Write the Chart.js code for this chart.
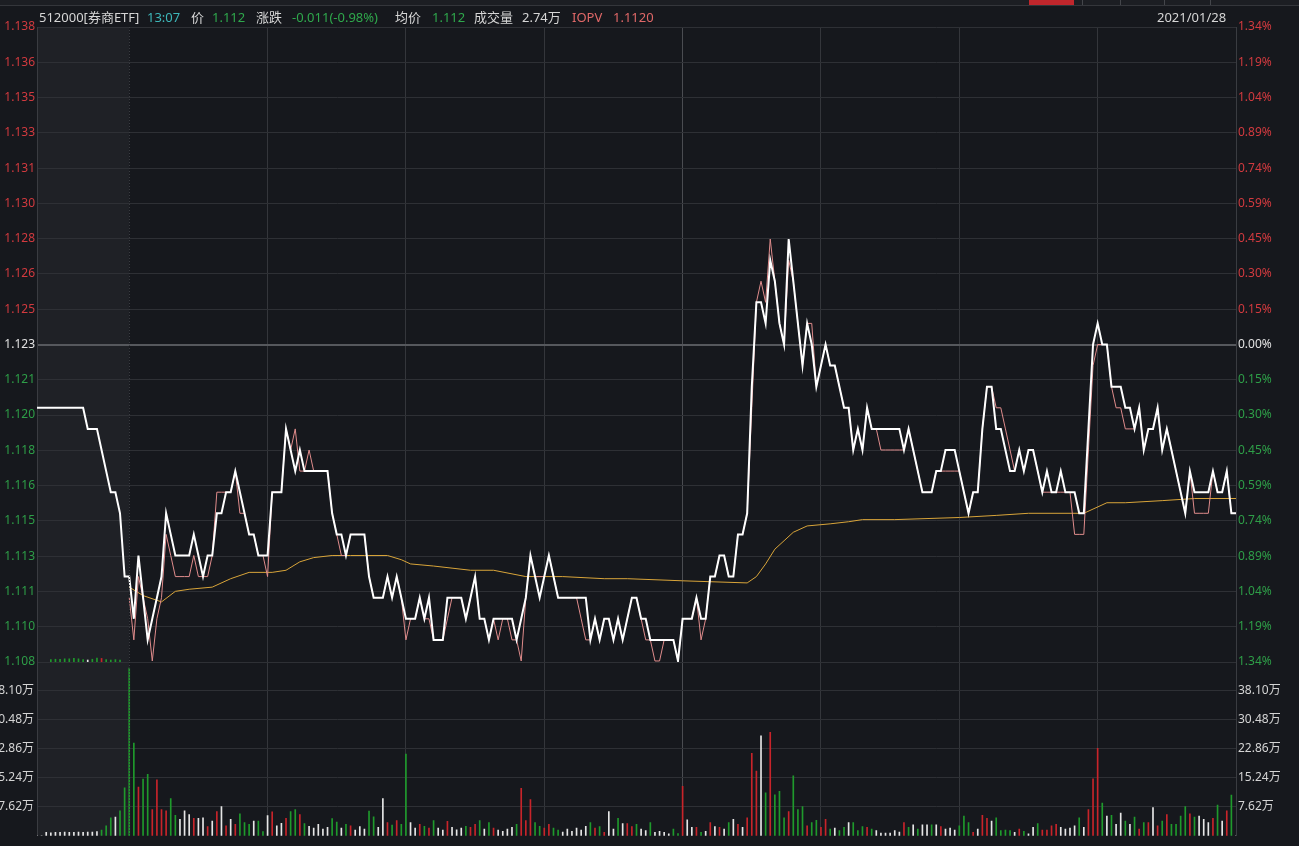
<!DOCTYPE html>
<html>
<head>
<meta charset="utf-8">
<script src="https://cdn.jsdelivr.net/npm/chart.js@4.4.0/dist/chart.umd.min.js"></script>
<style>
html, body { margin: 0; padding: 0; background: #16181d; overflow: hidden; }
#wrap { position: relative; width: 1299px; height: 846px; }
canvas { position: absolute; left: 0; top: 0; }
.t { position: absolute; top: 9px; font: 13px "Noto Sans", "Noto Sans CJK SC", sans-serif; line-height: 16px; white-space: nowrap; }
.bar { position: absolute; top: 0; height: 5px; }
</style>
</head>
<body>
<div id="wrap">
  <canvas id="priceChart" width="1299" height="846"></canvas>
  <canvas id="volChart" width="1299" height="846"></canvas>

  <div class="bar" style="left:0;width:1299px;background:#1c1e23;border-bottom:1px solid #34363b"></div>
  <div class="bar" style="left:1029px;width:45px;background:#c0262c"></div>
  <div class="bar" style="left:1082px;width:1px;background:#44464b"></div>
  <div class="bar" style="left:1120px;width:1px;background:#44464b"></div>
  <div class="bar" style="left:1164px;width:1px;background:#44464b"></div>
  <div class="bar" style="left:1210px;width:1px;background:#44464b"></div>

  <div class="t" style="left:39px;color:#d6d6d6">512000[券商ETF]</div>
  <div class="t" style="left:147px;color:#3db7b9">13:07</div>
  <div class="t" style="left:191px;color:#d6d6d6">价</div>
  <div class="t" style="left:212px;color:#2fa84c">1.112</div>
  <div class="t" style="left:256px;color:#d6d6d6">涨跌</div>
  <div class="t" style="left:292px;color:#2fa84c">-0.011(-0.98%)</div>
  <div class="t" style="left:395px;color:#d6d6d6">均价</div>
  <div class="t" style="left:432px;color:#2fa84c">1.112</div>
  <div class="t" style="left:474px;color:#d6d6d6">成交量</div>
  <div class="t" style="left:522px;color:#d6d6d6">2.74万</div>
  <div class="t" style="left:572px;color:#e06868">IOPV</div>
  <div class="t" style="left:613px;color:#e06868">1.1120</div>
  <div class="t" style="left:1157px;color:#d6d6d6">2021/01/28</div>
</div>

<script>
// 分时数据：0-19 为集合竞价段，20 = 9:30，140 = 11:30/13:00，260 = 15:00
const preClose = 1.123;
const maxPct = 0.0134;

const sessionTicks = [0, 20, 50, 80, 110, 140, 170, 200, 230, 260];

const priceLabels = ['1.138', '1.136', '1.135', '1.133', '1.131', '1.130', '1.128', '1.126', '1.125', '1.123',
    '1.121', '1.120', '1.118', '1.116', '1.115', '1.113', '1.111', '1.110', '1.108'];
const pctLabels = ['1.34%', '1.19%', '1.04%', '0.89%', '0.74%', '0.59%', '0.45%', '0.30%', '0.15%', '0.00%',
    '0.15%', '0.30%', '0.45%', '0.59%', '0.74%', '0.89%', '1.04%', '1.19%', '1.34%'];
const volTicks = [7.62, 15.24, 22.86, 30.48, 38.10, 45.72];
const volLabels = ['7.62万', '15.24万', '22.86万', '30.48万', '38.10万', ''];

const price = [
    1.120, 1.120, 1.120, 1.120, 1.120, 1.120, 1.120, 1.120, 1.120, 1.120,
    1.120, 1.119, 1.119, 1.119, 1.118, 1.117, 1.116, 1.116, 1.115, 1.112,
    1.112, 1.110, 1.113, 1.111, 1.109, 1.110, 1.111, 1.112, 1.115, 1.114,
    1.113, 1.113, 1.113, 1.113, 1.114, 1.113, 1.112, 1.113, 1.113, 1.115,
    1.115, 1.116, 1.116, 1.117, 1.116, 1.115, 1.114, 1.114, 1.113, 1.113,
    1.113, 1.116, 1.116, 1.116, 1.119, 1.118, 1.117, 1.118, 1.117, 1.117,
    1.117, 1.117, 1.117, 1.117, 1.115, 1.114, 1.114, 1.113, 1.114, 1.114,
    1.114, 1.114, 1.112, 1.111, 1.111, 1.111, 1.112, 1.111, 1.112, 1.111,
    1.110, 1.110, 1.110, 1.111, 1.110, 1.111, 1.109, 1.109, 1.109, 1.111,
    1.111, 1.111, 1.111, 1.110, 1.111, 1.112, 1.110, 1.110, 1.109, 1.110,
    1.110, 1.110, 1.110, 1.110, 1.109, 1.110, 1.111, 1.113, 1.112, 1.111,
    1.112, 1.113, 1.112, 1.111, 1.111, 1.111, 1.111, 1.111, 1.111, 1.111,
    1.109, 1.110, 1.109, 1.110, 1.110, 1.109, 1.110, 1.109, 1.110, 1.111,
    1.111, 1.110, 1.110, 1.109, 1.109, 1.109, 1.109, 1.109, 1.109, 1.108,
    1.110, 1.110, 1.110, 1.111, 1.110, 1.110, 1.112, 1.112, 1.113, 1.113,
    1.112, 1.112, 1.114, 1.114, 1.115, 1.121, 1.125, 1.125, 1.124, 1.127,
    1.126, 1.124, 1.123, 1.128, 1.126, 1.124, 1.122, 1.124, 1.123, 1.121,
    1.122, 1.123, 1.122, 1.122, 1.121, 1.120, 1.120, 1.118, 1.119, 1.118,
    1.120, 1.119, 1.119, 1.119, 1.119, 1.119, 1.119, 1.119, 1.118, 1.119,
    1.118, 1.117, 1.116, 1.116, 1.116, 1.117, 1.117, 1.118, 1.118, 1.118,
    1.117, 1.116, 1.115, 1.116, 1.116, 1.119, 1.121, 1.121, 1.119, 1.119,
    1.118, 1.117, 1.117, 1.118, 1.117, 1.118, 1.118, 1.117, 1.116, 1.117,
    1.116, 1.116, 1.117, 1.116, 1.116, 1.116, 1.115, 1.115, 1.119, 1.123,
    1.124, 1.123, 1.123, 1.121, 1.121, 1.121, 1.120, 1.120, 1.119, 1.120,
    1.118, 1.119, 1.119, 1.120, 1.118, 1.119, 1.118, 1.117, 1.116, 1.115,
    1.117, 1.116, 1.116, 1.116, 1.116, 1.117, 1.116, 1.116, 1.117, 1.115,
    1.115
];

const iopv = [
    null, null, null, null, null, null, null, null, null, null,
    null, null, null, null, null, null, null, null, null, null,
    1.111, 1.109, 1.112, 1.111, 1.110, 1.108, 1.110, 1.111, 1.114, 1.113,
    1.112, 1.112, 1.112, 1.112, 1.113, 1.112, 1.112, 1.112, 1.113, 1.116,
    1.116, 1.116, 1.116, 1.117, 1.115, 1.115, 1.114, 1.114, 1.113, 1.113,
    1.112, 1.116, 1.116, 1.116, 1.119, 1.118, 1.119, 1.117, 1.117, 1.118,
    1.117, 1.117, 1.117, 1.117, 1.115, 1.114, 1.113, 1.113, 1.114, 1.114,
    1.114, 1.114, 1.112, 1.111, 1.111, 1.111, 1.112, 1.111, 1.112, 1.111,
    1.109, 1.110, 1.110, 1.111, 1.110, 1.110, 1.109, 1.109, 1.109, 1.110,
    1.111, 1.111, 1.111, 1.110, 1.111, 1.112, 1.110, 1.110, 1.109, 1.110,
    1.109, 1.110, 1.110, 1.109, 1.109, 1.108, 1.111, 1.113, 1.112, 1.112,
    1.112, 1.113, 1.112, 1.111, 1.111, 1.111, 1.111, 1.111, 1.110, 1.109,
    1.109, 1.110, 1.109, 1.110, 1.110, 1.109, 1.110, 1.109, 1.110, 1.111,
    1.111, 1.110, 1.109, 1.109, 1.108, 1.108, 1.109, 1.109, 1.109, 1.108,
    1.110, 1.110, 1.110, 1.111, 1.109, 1.110, 1.112, 1.112, 1.113, 1.113,
    1.112, 1.112, 1.114, 1.114, 1.115, 1.120, 1.125, 1.126, 1.125, 1.128,
    1.126, 1.124, 1.123, 1.127, 1.126, 1.124, 1.122, 1.124, 1.124, 1.121,
    1.122, 1.123, 1.122, 1.122, 1.121, 1.120, 1.120, 1.118, 1.119, 1.118,
    1.120, 1.119, 1.119, 1.118, 1.118, 1.118, 1.118, 1.118, 1.118, 1.119,
    1.118, 1.117, 1.116, 1.116, 1.116, 1.117, 1.117, 1.117, 1.117, 1.117,
    1.117, 1.116, 1.115, 1.116, 1.116, 1.119, 1.121, 1.121, 1.120, 1.120,
    1.119, 1.118, 1.117, 1.118, 1.117, 1.118, 1.118, 1.117, 1.116, 1.116,
    1.116, 1.116, 1.116, 1.116, 1.116, 1.114, 1.114, 1.114, 1.118, 1.122,
    1.123, 1.123, 1.123, 1.121, 1.120, 1.120, 1.119, 1.119, 1.119, 1.120,
    1.118, 1.119, 1.119, 1.120, 1.118, 1.119, 1.118, 1.117, 1.116, 1.115,
    1.117, 1.115, 1.115, 1.115, 1.115, 1.117, 1.116, 1.116, 1.117, 1.115,
    1.115
];

// 均价线（读图取点）
const avgSlots = [20, 23, 27, 30, 33, 38, 42, 46, 51, 54, 57, 60, 64, 68, 71, 76, 79, 81, 86, 90,
    94, 99, 106, 114, 123, 128, 140, 154, 156, 158, 160, 162, 164, 167, 172, 176, 179, 186, 200, 208,
    215, 227, 229, 232, 236, 244, 251, 260];
const avgValues = [1.1115, 1.1111, 1.1108, 1.1113, 1.1114, 1.1115, 1.1119, 1.1122, 1.1122, 1.1123,
    1.1127, 1.1129, 1.1130, 1.1130, 1.1130, 1.1130, 1.1128, 1.1126, 1.1125, 1.1124,
    1.1123, 1.1123, 1.1120, 1.1120, 1.1119, 1.1119, 1.1118, 1.1117, 1.1120, 1.1126,
    1.1133, 1.1137, 1.1141, 1.1144, 1.1145, 1.1146, 1.1147, 1.1147, 1.1148, 1.1149,
    1.1150, 1.1150, 1.1152, 1.1155, 1.1155, 1.1156, 1.1157, 1.1157];

// 集合竞价未匹配量（相对值）及方向
const auctionSlots = [3, 4, 5, 6, 7, 8, 9, 10, 11, 12, 13, 14, 15, 16, 17, 18];
const auctionMarks = [0.6, 0.7, 0.7, 0.8, 0.8, 0.9, 0.8, 0.6, 0.5, 0.7, 1.0, 0.9, 0.6, 0.5, 0.6, 0.5];
const auctionDir = 'ggggggggwggrgggg'.split('');

// 成交量（万）
const volume = [
    0, 0, 0.9, 0.8, 0.9, 0.9, 1.0, 0.9, 0.9, 1.0,
    0.9, 1.0, 1.0, 1.1, 1.5, 2.6, 4.7, 4.9, 6.6, 12.6,
    44.1, 24.4, 12.8, 14.9, 16.2, 6.9, 14.7, 6.9, 6.6, 9.8,
    5.4, 4.3, 6.6, 5.6, 4.6, 4.6, 4.7, 2.4, 3.9, 6.4,
    7.7, 2.6, 4.3, 3.0, 5.8, 3.5, 3.0, 3.9, 3.9, 1.1,
    5.3, 6.3, 2.6, 3.3, 4.6, 6.4, 6.9, 5.6, 3.2, 2.5,
    2.0, 3.0, 1.8, 2.2, 4.5, 3.6, 2.0, 3.0, 2.6, 1.5,
    2.4, 1.8, 6.5, 5.0, 2.2, 9.8, 3.5, 2.8, 4.0, 3.0,
    21.5, 3.5, 2.0, 3.0, 2.5, 2.0, 4.0, 2.0, 1.5, 3.8,
    2.2, 1.6, 2.0, 2.5, 2.2, 3.0, 4.0, 1.8, 3.5, 2.0,
    1.5, 1.2, 1.8, 2.2, 3.0, 12.5, 4.0, 9.5, 3.5, 2.5,
    2.0, 3.0, 2.0, 1.5, 1.0, 1.8, 1.2, 2.0, 1.5, 2.5,
    3.5, 2.0, 2.4, 0.9, 6.4, 1.8, 4.6, 3.2, 3.2, 2.4,
    3.0, 1.8, 1.4, 3.5, 0.9, 1.2, 0.9, 0.5, 1.8, 0.6,
    13.0, 4.2, 2.2, 2.2, 0.9, 1.2, 3.5, 2.4, 2.2, 1.8,
    3.5, 4.3, 3.0, 2.2, 4.7, 21.7, 17.0, 26.3, 11.3, 27.2,
    10.8, 11.7, 4.7, 6.4, 15.8, 6.9, 7.7, 2.6, 3.5, 4.1,
    2.2, 4.3, 1.8, 2.0, 1.4, 2.2, 3.5, 3.5, 1.4, 2.4,
    2.2, 1.8, 1.4, 0.7, 0.7, 0.7, 1.4, 1.0, 3.5, 2.2,
    2.9, 1.8, 2.9, 2.9, 2.9, 2.9, 2.4, 1.8, 2.0, 1.5,
    2.6, 5.2, 3.5, 0.9, 1.8, 5.4, 4.6, 3.9, 4.7, 1.4,
    1.5, 1.4, 0.9, 1.8, 1.2, 0.5, 2.2, 3.2, 1.5, 1.5,
    2.6, 3.0, 2.2, 1.8, 2.0, 2.6, 4.7, 2.2, 6.9, 15.0,
    23.0, 8.6, 5.2, 5.4, 3.0, 6.0, 3.9, 3.0, 4.9, 1.8,
    3.5, 3.5, 7.4, 2.6, 3.9, 5.6, 3.0, 3.0, 5.2, 7.7,
    5.8, 4.9, 5.2, 4.3, 3.5, 4.6, 8.1, 3.9, 6.6, 10.7,
    0
];

// 量柱方向 r=涨 g=跌 w=平
const volDir = (
    'wwwwwwwwww' + 'wwwwgggwgg' + 'ggrggrrrrg' + 'gwwwrwwrwr' + 'wrwrgggwgg' +
    'wrwwrggrgw' + 'wwwwggwgrw' + 'wwggwwrgrg' + 'gwwrgrgwwr' + 'wwwgrrgwgr' +
    'wwwwgrrrgg' + 'rrggwwwwww' + 'grgrwwgwrr' + 'gwwgwwwwgg' + 'rwwrgwrwrw' +
    'gwrwrrrwgr' + 'gggrgggrgg' + 'rrgwggwggg' + 'rgwwwwwwrg' + 'wgwwgwrwww' +
    'gggrwrrwgg' + 'ggwrgwwgrr' + 'rrwwwwgwrr' + 'rgwgwwgwgr' + 'grwrgrgggg' +
    'rgwwwrgwrg' + 'w'
).split('');

const font = { family: '"Noto Sans", "Noto Sans CJK SC", sans-serif', size: 12 };
const upColor = '#d23a3f';
const downColor = '#2e9e48';
const gridColor = '#2e3035';
const dirColor = { r: '#c8242a', g: '#1f9a2c', w: '#e6e6e6' };

const priceMin = preClose * (1 - maxPct);
const priceMax = preClose * (1 + maxPct);
const priceStep = (priceMax - priceMin) / (priceLabels.length - 1);

// 集合竞价底色 + 9:30 虚线
const sessionShade = {
    id: 'sessionShade',
    beforeDraw(chart) {
        const { ctx, chartArea, scales } = chart;
        const x930 = scales.x.getPixelForValue(20);
        ctx.save();
        ctx.fillStyle = '#1f2126';
        ctx.fillRect(chartArea.left, chartArea.top, x930 - chartArea.left, chartArea.bottom - chartArea.top);
        ctx.restore();
    },
    afterDraw(chart) {
        const { ctx, chartArea, scales } = chart;
        const x930 = Math.round(scales.x.getPixelForValue(20)) + 0.5;
        ctx.save();
        ctx.strokeStyle = '#3a3c41';
        ctx.setLineDash([1, 2]);
        ctx.beginPath();
        ctx.moveTo(x930, chartArea.top);
        ctx.lineTo(x930, chartArea.bottom);
        ctx.stroke();
        ctx.restore();
    }
};

function timeAxis() {
    return {
        type: 'linear',
        min: 0,
        max: 260,
        offset: false,
        afterBuildTicks: s => { s.ticks = sessionTicks.map(v => ({ value: v })); },
        afterFit: s => { s.height = 0; },
        ticks: { display: false },
        border: { display: false },
        grid: {
            offset: false,
            drawTicks: false,
            color: ctx => {
                const v = ctx.tick && ctx.tick.value;
                if (v === 20) return 'rgba(0,0,0,0)';
                if (v === 140) return '#4a4c51';
                return '#34363b';
            }
        }
    };
}

// 价格图
const priceChart = new Chart(document.getElementById('priceChart'), {
    type: 'line',
    data: {
        datasets: [{
            label: '价格',
            data: price.map((v, i) => ({ x: i, y: v })),
            borderColor: '#ffffff',
            borderWidth: 2,
            pointRadius: 0,
            tension: 0
        }, {
            label: 'IOPV',
            data: iopv.map((v, i) => ({ x: i, y: v })),
            borderColor: '#e08c8c',
            borderWidth: 1,
            pointRadius: 0,
            tension: 0
        }, {
            label: '均价',
            data: avgSlots.map((s, i) => ({ x: s, y: avgValues[i] })),
            borderColor: '#d9a53a',
            borderWidth: 1,
            pointRadius: 0,
            tension: 0
        }, {
            type: 'bar',
            label: '竞价',
            yAxisID: 'yA',
            data: auctionSlots.map((s, i) => ({ x: s, y: auctionMarks[i] })),
            backgroundColor: auctionDir.map(c => dirColor[c]),
            barThickness: 1
        }]
    },
    options: {
        responsive: false,
        animation: false,
        events: [],
        layout: { padding: { top: 27, bottom: 184, left: 0, right: 0 } },
        plugins: { legend: { display: false }, tooltip: { enabled: false } },
        scales: {
            x: timeAxis(),
            y: {
                position: 'left',
                min: priceMin,
                max: priceMax,
                afterBuildTicks: s => { s.ticks = priceLabels.map((_, i) => ({ value: priceMin + i * priceStep })); },
                afterFit: s => { s.width = 37; },
                border: { display: true, color: '#3a3c41' },
                grid: {
                    drawTicks: false,
                    color: ctx => ctx.index === 9 ? '#56585d' : gridColor,
                    lineWidth: ctx => ctx.index === 9 ? 2 : 1
                },
                ticks: {
                    autoSkip: false,
                    padding: 2,
                    font: font,
                    callback: (v, i) => priceLabels[priceLabels.length - 1 - i],
                    color: ctx => ctx.index > 9 ? upColor : (ctx.index === 9 ? '#e2e2e2' : downColor)
                }
            },
            y2: {
                position: 'right',
                min: priceMin,
                max: priceMax,
                afterBuildTicks: s => { s.ticks = pctLabels.map((_, i) => ({ value: priceMin + i * priceStep })); },
                afterFit: s => { s.width = 63; },
                border: { display: true, color: '#3a3c41' },
                grid: { display: false, drawTicks: false },
                ticks: {
                    autoSkip: false,
                    padding: 2,
                    font: font,
                    callback: (v, i) => pctLabels[pctLabels.length - 1 - i],
                    color: ctx => ctx.index > 9 ? upColor : (ctx.index === 9 ? '#e2e2e2' : downColor)
                }
            },
            yA: { display: false, min: 0, max: 160 }
        }
    },
    plugins: [sessionShade]
});

// 成交量图
const volChart = new Chart(document.getElementById('volChart'), {
    type: 'bar',
    data: {
        datasets: [{
            label: '成交量',
            data: volume.map((v, i) => ({ x: i, y: v })),
            backgroundColor: volDir.map(c => dirColor[c]),
            barThickness: 1
        }]
    },
    options: {
        responsive: false,
        animation: false,
        events: [],
        layout: { padding: { top: 662, bottom: 4, left: 0, right: 0 } },
        plugins: { legend: { display: false }, tooltip: { enabled: false } },
        scales: {
            x: timeAxis(),
            y: {
                position: 'left',
                min: 0,
                max: 45.72,
                afterBuildTicks: s => { s.ticks = volTicks.map(v => ({ value: v })); },
                afterFit: s => { s.width = 37; },
                border: { display: true, color: '#3a3c41' },
                grid: { drawTicks: false, color: gridColor },
                ticks: {
                    autoSkip: false,
                    padding: 3,
                    font: font,
                    color: '#d4d4d4',
                    callback: (v, i) => volLabels[i]
                }
            },
            y2: {
                position: 'right',
                min: 0,
                max: 45.72,
                afterBuildTicks: s => { s.ticks = volTicks.map(v => ({ value: v })); },
                afterFit: s => { s.width = 63; },
                border: { display: true, color: '#3a3c41' },
                grid: { display: false, drawTicks: false },
                ticks: {
                    autoSkip: false,
                    padding: 2,
                    font: font,
                    color: '#d4d4d4',
                    callback: (v, i) => volLabels[i]
                }
            }
        }
    },
    plugins: [sessionShade]
});
</script>
</body>
</html>
